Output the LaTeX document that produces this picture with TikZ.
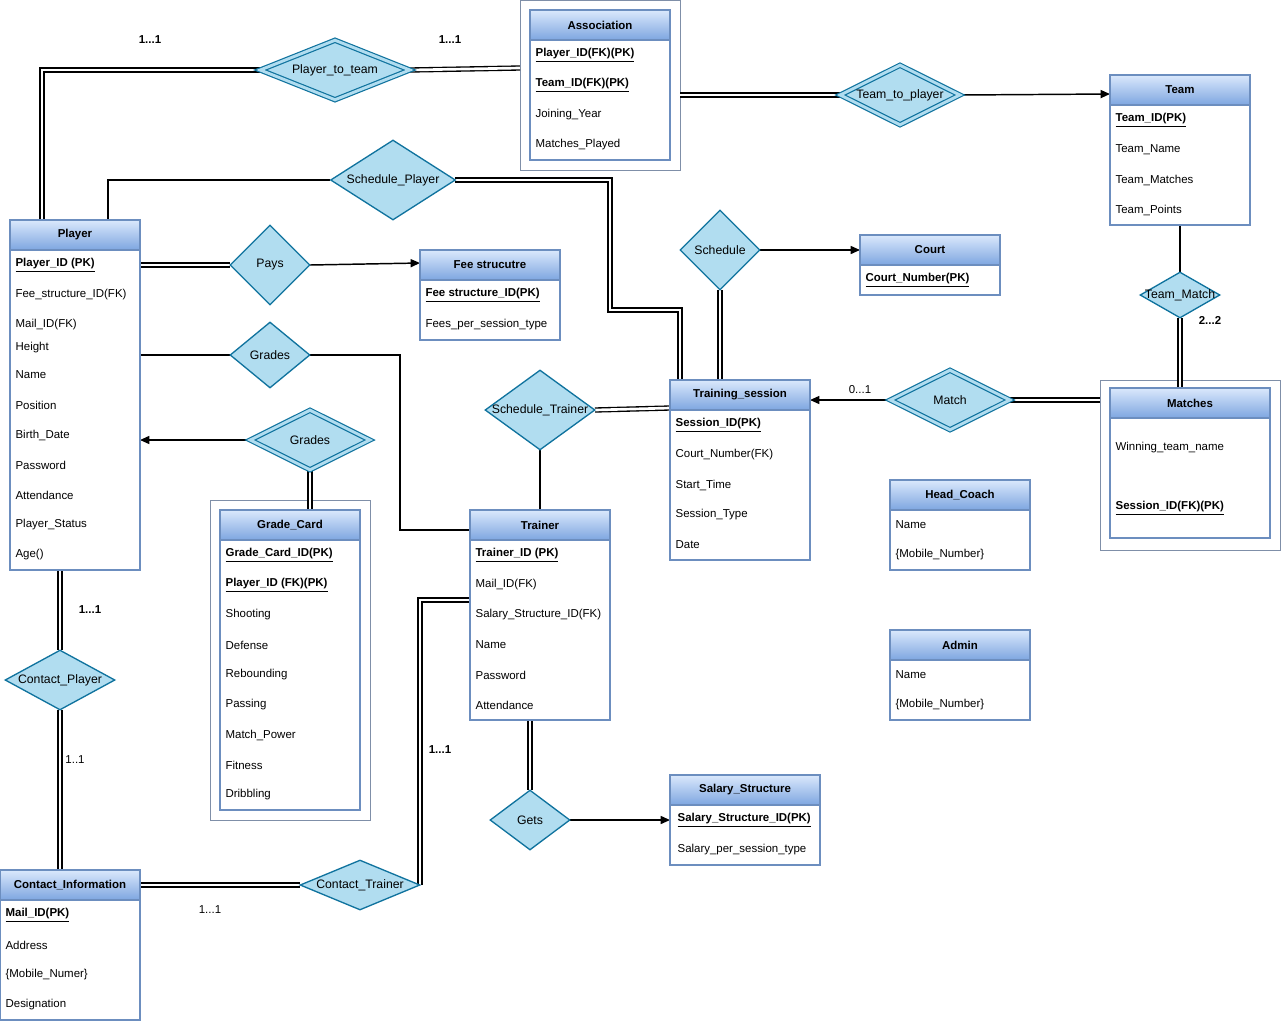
\documentclass[tikz,border=0pt]{standalone}
\usepackage{fontspec}
\setmainfont{Liberation Sans}
\usetikzlibrary{shapes.geometric,arrows.meta,fit}
\definecolor{eb}{HTML}{6C8EBF}
\definecolor{ht}{HTML}{DAE8FC}
\definecolor{hb}{HTML}{7EA6E0}
\definecolor{rf}{HTML}{B1DDF0}
\definecolor{rd}{HTML}{10739E}
\definecolor{fr}{HTML}{7F8FA8}
\tikzset{
 x=0.75pt,y=-0.75pt,
 every node/.style={font=\fontsize{8.6}{10}\selectfont,inner sep=1pt},
 entbox/.style={draw=eb,line width=1.3pt,fill=white,inner sep=0},
 enthead/.style={draw=eb,line width=1.3pt,top color=ht,bottom color=hb},
 frame/.style={draw=fr,line width=0.6pt,inner sep=0},
 rel/.style={shape=diamond,draw=rd,fill=rf,line width=1pt,inner sep=0},
 relw/.style={double=rf,double distance=2.2pt,line width=0.9pt},
 rlab/.style={font=\fontsize{9.2}{10}\selectfont},
 ln/.style={line width=1.1pt},
 dbl/.style={double,double distance=2pt,line width=1pt},
 arr/.style={line width=1.1pt,-{Triangle[length=7pt,width=6pt]}},
 lab/.style={font=\fontsize{8.6}{10}\selectfont},
 blab/.style={font=\bfseries\fontsize{8.6}{10}\selectfont},
}
\newcommand\ent[7]{%
 \node[entbox,fit={(#2,#3)(#4,#6)}] (#1) {};
 \path[enthead] (#2,#3) rectangle (#4,#5);
 \node[font=\bfseries\fontsize{8.6}{10}\selectfont] (#1-h) at ({(#2+#4)/2},{(#3+#5)/2}) {#7};}
\newcommand\rw[3]{\node[anchor=west] at (#1,#2) {#3};}
\newcommand\ur[3]{\node[anchor=west] at (#1,#2) {\underline{\textbf{#3}}};}
\newcommand\rel[7][]{\node[rel,#1,minimum width={#5*0.75pt},minimum height={#6*0.75pt},label={[rlab]center:#7}] (#2) at (#3,#4) {};}
\begin{document}
\begin{tikzpicture}
\useasboundingbox (0,0) rectangle (1282,1022);
% frames (weak entities)
\node[frame,fit={(520,0)(680,170)}] (assocf) {};
\node[frame,fit={(1100,380)(1280,550)}] (matchesf) {};
\node[frame,fit={(210,500)(370,820)}] (gcf) {};
% connectors
\draw[dbl] (42,220) -- (42,70) -- (260,70);
\draw[dbl] (410,70) -- (520,68);
\draw[dbl] (680,95) -- (840,95);
\draw[arr] (960,95) -- (1110,94);
\draw[ln] (108,220) -- (108,180) -- (330,180);
\draw[dbl] (455,180) -- (610,180) -- (610,310) -- (680,310) -- (680,380);
\draw[dbl] (140,265) -- (230,265);
\draw[arr] (310,265) -- (420,263);
\draw[ln] (140,355) -- (230,355);
\draw[ln] (310,355) -- (400,355) -- (400,530) -- (470,530);
\draw[arr] (250,440) -- (140,440);
\draw[dbl] (310,470) -- (310,510);
\draw[dbl] (720,290) -- (720,380);
\draw[arr] (760,250) -- (860,250);
\draw[ln] (1180,225) -- (1180,272);
\draw[dbl] (1180,318) -- (1180,388);
\draw[dbl] (1100,400) -- (1010,400);
\draw[arr] (890,400) -- (810,400);
\draw[dbl] (595,410) -- (670,408);
\draw[ln] (540,450) -- (540,510);
\draw[dbl] (60,570) -- (60,650);
\draw[dbl] (60,710) -- (60,870);
\draw[dbl] (140,885) -- (300,885);
\draw[dbl] (420,885) -- (420,600) -- (472,600);
\draw[dbl] (530,720) -- (530,790);
\draw[arr] (570,820) -- (670,820);
% entities
\ent{assoc}{530}{10}{670}{40}{160}{Association}
\ur{534}{55}{Player\_ID(FK)(PK)}\ur{534}{85}{Team\_ID(FK)(PK)}\rw{534}{115}{Joining\_Year}\rw{534}{145}{Matches\_Played}
\ent{team}{1110}{75}{1250}{105}{225}{Team}
\ur{1114}{120}{Team\_ID(PK)}\rw{1114}{150}{Team\_Name}\rw{1114}{180}{Team\_Matches}\rw{1114}{210}{Team\_Points}
\ent{player}{10}{220}{140}{250}{570}{Player}
\ur{14}{265}{Player\_ID (PK)}\rw{14}{295}{Fee\_structure\_ID(FK)}\rw{14}{325}{Mail\_ID(FK)}\rw{14}{348}{Height}\rw{14}{375}{Name}\rw{14}{405}{Position}\rw{14}{435}{Birth\_Date}\rw{14}{465}{Password}\rw{14}{495}{Attendance}\rw{14}{525}{Player\_Status}\rw{14}{555}{Age()}
\ent{fee}{420}{250}{560}{280}{340}{Fee strucutre}
\ur{424}{295}{Fee structure\_ID(PK)}\rw{424}{325}{Fees\_per\_session\_type}
\ent{court}{860}{235}{1000}{265}{295}{Court}
\ur{864}{280}{Court\_Number(PK)}
\ent{ts}{670}{380}{810}{410}{560}{Training\_session}
\ur{674}{425}{Session\_ID(PK)}\rw{674}{455}{Court\_Number(FK)}\rw{674}{485}{Start\_Time}\rw{674}{515}{Session\_Type}\rw{674}{545}{Date}
\ent{matches}{1110}{388}{1270}{418}{538}{Matches}
\rw{1114}{448}{Winning\_team\_name}\ur{1114}{508}{Session\_ID(FK)(PK)}
\ent{hc}{890}{480}{1030}{510}{570}{Head\_Coach}
\rw{894}{525}{Name}\rw{894}{555}{\{Mobile\_Number\}}
\ent{admin}{890}{630}{1030}{660}{720}{Admin}
\rw{894}{675}{Name}\rw{894}{705}{\{Mobile\_Number\}}
\ent{gc}{220}{510}{360}{540}{810}{Grade\_Card}
\ur{224}{555}{Grade\_Card\_ID(PK)}\ur{224}{585}{Player\_ID (FK)(PK)}\rw{224}{615}{Shooting}\rw{224}{645}{Defense}\rw{224}{675}{Rebounding}\rw{224}{705}{Passing}\rw{224}{735}{Match\_Power}\rw{224}{765}{Fitness}\rw{224}{795}{Dribbling}
\ent{trainer}{470}{510}{610}{540}{720}{Trainer}
\ur{474}{555}{Trainer\_ID (PK)}\rw{474}{585}{Mail\_ID(FK)}\rw{474}{615}{Salary\_Structure\_ID(FK)}\rw{474}{645}{Name}\rw{474}{675}{Password}\rw{474}{705}{Attendance}
\ent{sal}{670}{775}{820}{805}{865}{Salary\_Structure}
\ur{676}{820}{Salary\_Structure\_ID(PK)}\rw{676}{850}{Salary\_per\_session\_type}
\ent{ci}{0}{870}{140}{900}{1020}{Contact\_Information}
\ur{4}{915}{Mail\_ID(PK)}\rw{4}{945}{Address}\rw{4}{975}{\{Mobile\_Numer\}}\rw{4}{1005}{Designation}
% relationships
\rel[relw]{ptt}{335}{70}{150}{60}{Player\_to\_team}
\rel[relw]{ttp}{900}{95}{120}{60}{Team\_to\_player}
\rel{sp}{393}{180}{125}{80}{Schedule\_Player}
\rel{pays}{270}{265}{80}{80}{Pays}
\rel{gr1}{270}{355}{80}{66}{Grades}
\rel[relw]{gr2}{310}{440}{120}{60}{Grades}
\rel{sch}{720}{250}{80}{80}{Schedule}
\rel{tm}{1180}{295}{80}{46}{Team\_Match}
\rel[relw]{match}{950}{400}{120}{60}{Match}
\rel{st}{540}{410}{110}{80}{Schedule\_Trainer}
\rel{cp}{60}{680}{110}{60}{Contact\_Player}
\rel{gets}{530}{820}{80}{60}{Gets}
\rel{ct}{360}{885}{120}{50}{Contact\_Trainer}
% labels
\node[blab] (l1) at (150,40) {1...1};
\node[blab] (l2) at (450,40) {1...1};
\node[blab] (l3) at (1210,320) {2...2};
\node[lab] (l4) at (860,390) {0...1};
\node[blab] (l5) at (90,610) {1...1};
\node[lab] (l6) at (75,760) {1..1};
\node[blab] (l7) at (440,750) {1...1};
\node[lab] (l8) at (210,910) {1...1};
\end{tikzpicture}
\end{document}
